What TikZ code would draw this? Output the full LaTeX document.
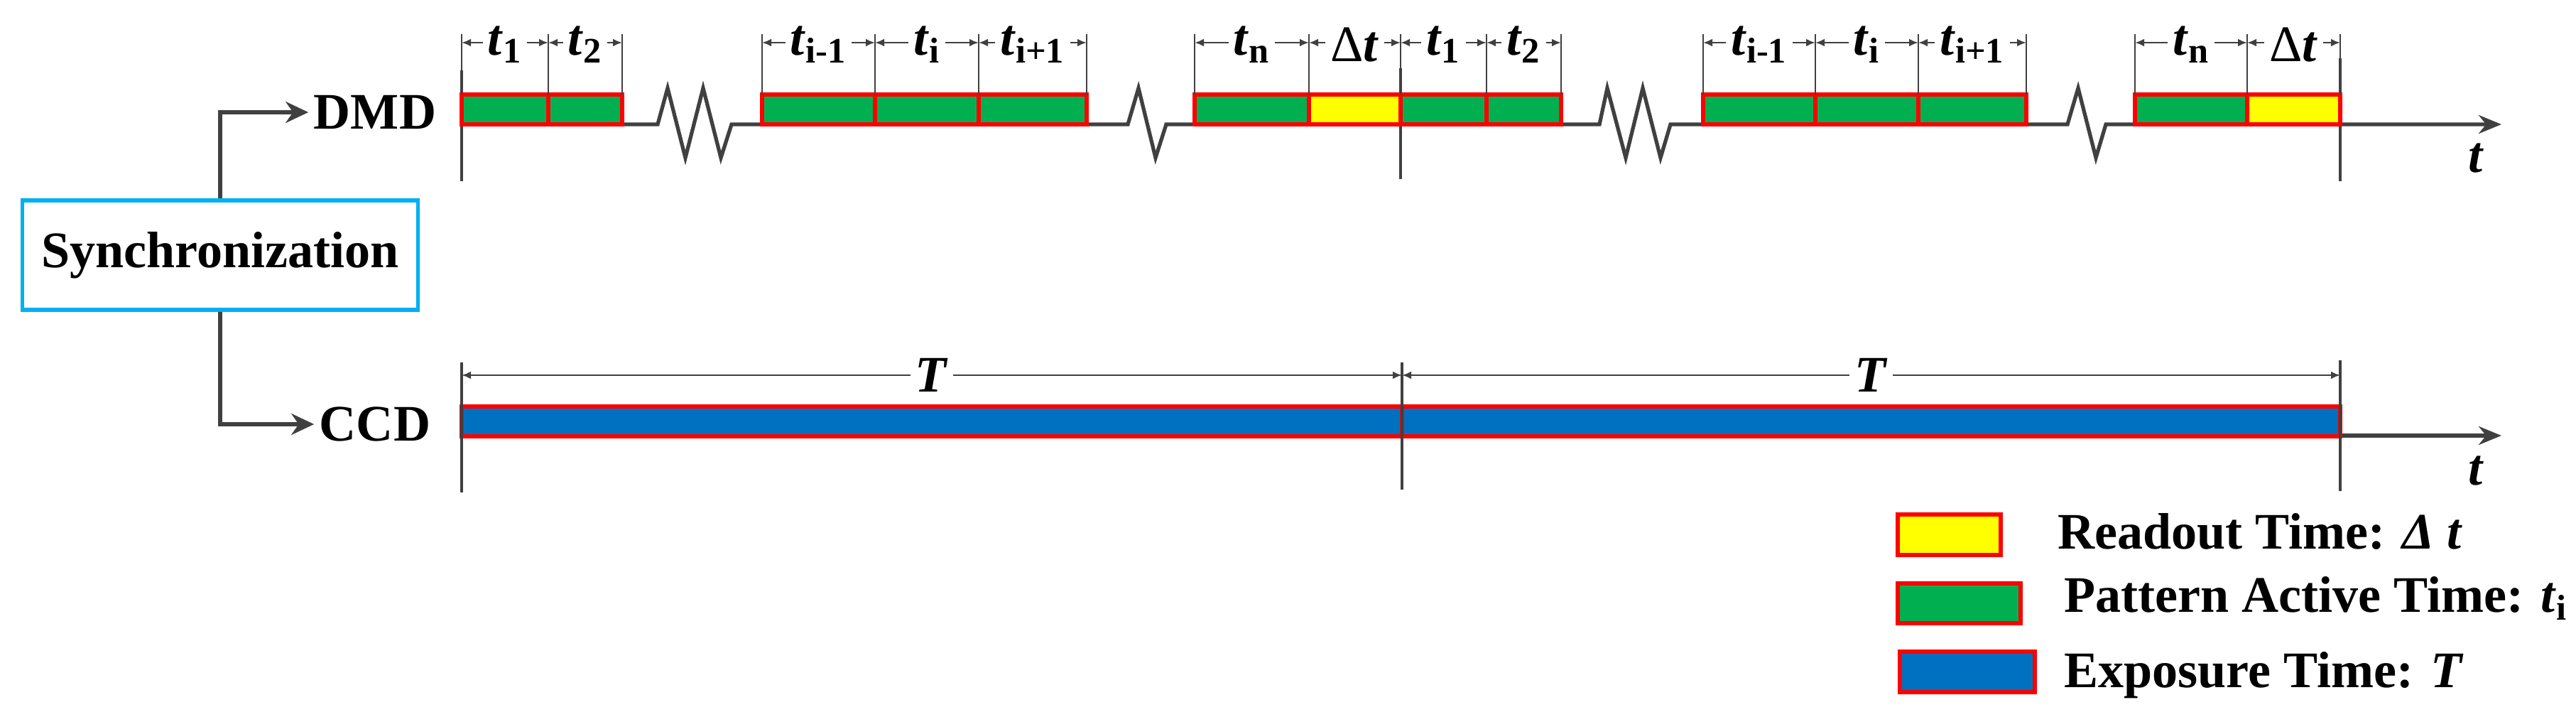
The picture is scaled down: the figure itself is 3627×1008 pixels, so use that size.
\documentclass[tikz,border=0pt]{standalone}
\usepackage{fontspec}
\setmainfont{Liberation Serif}
\usetikzlibrary{arrows.meta}
\definecolor{cgreen}{HTML}{00B050}
\definecolor{cyellow}{HTML}{FFFF00}
\definecolor{cblue}{HTML}{0070C0}
\definecolor{cred}{HTML}{FF0000}
\definecolor{ccyan}{HTML}{00B0F0}
\definecolor{cgray}{HTML}{404040}
\begin{document}
\begin{tikzpicture}[x=0.01cm,y=-0.01cm,
  seg/.style={draw=cred,line width=1.8pt},
  axisline/.style={draw=cgray,line width=1.5pt,-{Stealth[length=0.32cm,width=0.26cm]}},
  tickline/.style={draw=cgray,line width=1.3pt},
  extline/.style={draw=cgray,line width=0.5pt},
  dimline/.style={draw=cgray,line width=0.8pt,{Latex[length=0.13cm,width=0.11cm]}-{Latex[length=0.13cm,width=0.11cm]}},
  lbl/.style={font=\fontsize{20.5}{24}\selectfont\bfseries,inner sep=1pt},
  dlbl/.style={lbl,fill=white,inner xsep=2pt},
  conn/.style={draw=cgray,line width=1.6pt,-{Stealth[length=0.32cm,width=0.3cm]}}]
\useasboundingbox (0,0) rectangle (3627,1008);
\newcommand{\ti}[1]{\textit{t}\textsubscript{#1}}
% Synchronization
\node[lbl,draw=ccyan,line width=1.5pt,minimum width=5.56cm,minimum height=1.54cm] (sync) at (310,359) {Synchronization};
\node[lbl,inner sep=2pt] (dmd) at (528,158) {DMD};
\node[lbl,inner sep=2pt] (ccd) at (528,597) {CCD};
\draw[conn] (sync.north) |- (dmd.west);
\draw[conn] (sync.south) |- (ccd.west);
% DMD axis
\draw[axisline] (650,175) -- (926,175) -- (940,124) -- (965,222) -- (990,124) -- (1015,222) -- (1030,175)
  -- (1588,175) -- (1603,124) -- (1627,222) -- (1642,175)
  -- (2252,175) -- (2263,124) -- (2289,222) -- (2313,124) -- (2338,222) -- (2352,175)
  -- (2911,175) -- (2926,124) -- (2951,222) -- (2965,175) -- (3522,175);
\node[lbl] (t1axis) at (3486,223) {\textit{t}};
% ticks
\draw[tickline] (650,99) -- (650,255);
\draw[tickline] (1972,96) -- (1972,252);
\draw[tickline] (3295,82) -- (3295,255);
% DMD boxes
\foreach \a/\b/\c in {650/772/cgreen,772/876/cgreen,1073/1232/cgreen,1232/1378/cgreen,1378/1530/cgreen,
  1682/1843/cgreen,1843/1972/cyellow,1972/2093/cgreen,2093/2198/cgreen,
  2398/2556/cgreen,2556/2701/cgreen,2701/2853/cgreen,3006/3164/cgreen,3164/3295/cyellow}
  {\draw[seg,fill=\c] (\a,133) rectangle (\b,175);}
% extension lines
\foreach \x in {650,772,876,1073,1232,1378,1530,1682,1843,1972,2093,2198,2398,2556,2701,2853,3006,3164,3295}
  {\draw[extline] (\x,48) -- (\x,133);}
% dimension lines
\foreach \a/\b/\t in {650/772/\ti{1},772/876/\ti{2},1073/1232/\ti{i-1},1232/1378/\ti{i},1378/1530/\ti{i+1},
  1682/1843/\ti{n},1843/1972/{{\normalfont\fontsize{20.5}{24}\selectfont Δ}\textit{t}},1972/2093/\ti{1},2093/2198/\ti{2},
  2398/2556/\ti{i-1},2556/2701/\ti{i},2701/2853/\ti{i+1},3006/3164/\ti{n},3164/3295/{{\normalfont\fontsize{20.5}{24}\selectfont Δ}\textit{t}}}
  {\draw[dimline] (\a,60) -- (\b,60) node[dlbl,midway,yshift=-0.03cm] {\t};}
% CCD axis
\draw[axisline] (650,613) -- (3522,613);
\node[lbl] (t2axis) at (3486,663) {\textit{t}};
\draw[seg,fill=cblue] (650,572) rectangle (1974,614);
\draw[seg,fill=cblue] (1974,572) rectangle (3295,614);
\draw[tickline] (650,510) -- (650,693);
\draw[tickline] (1974,510) -- (1974,689);
\draw[tickline] (3295,507) -- (3295,691);
\draw[dimline] (650,528) -- (1974,528) node[dlbl,midway] {\textit{T}};
\draw[dimline] (1974,528) -- (3295,528) node[dlbl,midway] {\textit{T}};
% legend
\draw[seg,fill=cyellow] (2672,724) rectangle (2817,781);
\draw[seg,fill=cgreen] (2672,821) rectangle (2845,877);
\draw[seg,fill=cblue] (2675,917) rectangle (2865,974);
\node[lbl,anchor=west] (lg1) at (2893,748) {Readout Time: \textit{Δ t}};
\node[lbl,anchor=west] (lg2) at (2902,842) {Pattern Active Time: \ti{i}};
\node[lbl,anchor=west] (lg3) at (2902,950) {Exposure Time: \textit{T}};
\end{tikzpicture}
\end{document}
